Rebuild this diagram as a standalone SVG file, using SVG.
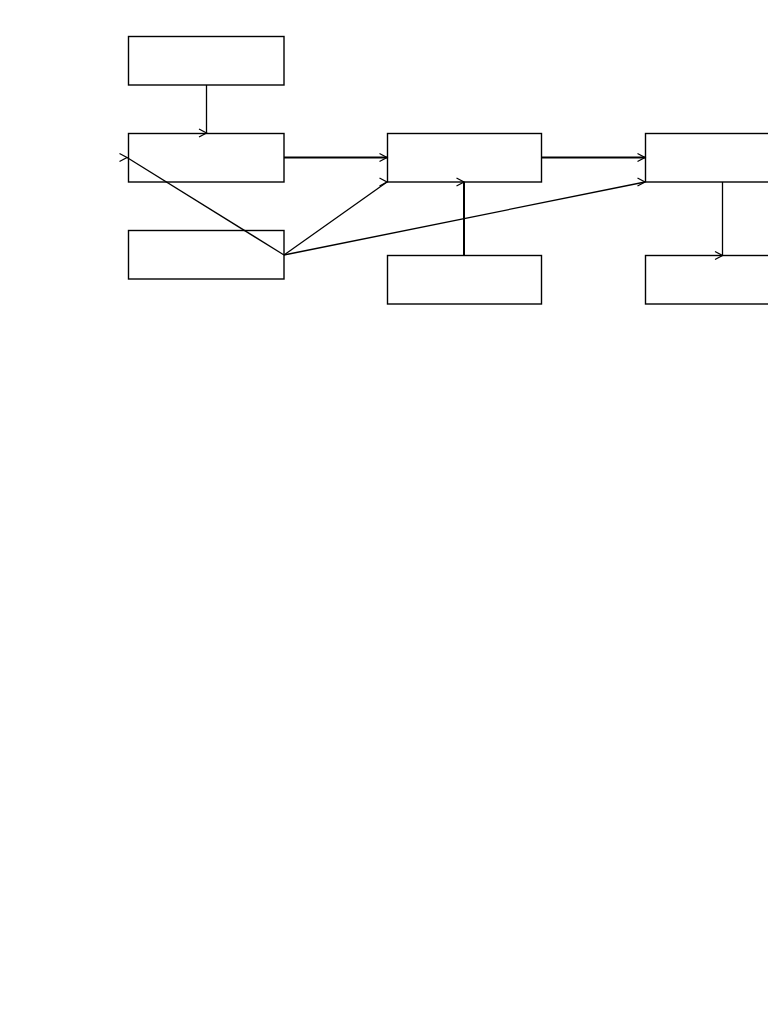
<svg xmlns="http://www.w3.org/2000/svg" width="768" height="1024" viewBox="0 0 768 1024">
<style>
.box{fill:#fff;stroke:#000;stroke-width:1.4}
.ln{fill:none;stroke:#000;stroke-width:1.3}
.thick{stroke-width:2}
</style>
<defs>
<marker id="chev" markerUnits="userSpaceOnUse" markerWidth="14" markerHeight="14" refX="8" refY="5" orient="0" overflow="visible">
<path d="M0.5,1 L8,5 L0.5,9" fill="none" stroke="#000" stroke-width="1.3"/>
</marker>
</defs>
<rect width="768" height="1024" fill="#fff"/>
<g id="nodeA"><rect class="box" x="128.5" y="36.5" width="155.5" height="48.5"/></g>
<g id="nodeB"><rect class="box" x="128.5" y="133.5" width="155.5" height="48.5"/></g>
<g id="nodeC"><rect class="box" x="128.5" y="230.5" width="155.5" height="48.5"/></g>
<g id="nodeD"><rect class="box" x="387.5" y="133.5" width="154" height="48.5"/></g>
<g id="nodeE"><rect class="box" x="387.5" y="255.5" width="154" height="48.5"/></g>
<g id="nodeF"><rect class="box" x="645.5" y="133.5" width="160" height="48.5"/></g>
<g id="nodeG"><rect class="box" x="645.5" y="255.5" width="160" height="48.5"/></g>
<g id="connectors">
<path class="ln" d="M206.5,85 L206.5,133" marker-end="url(#chev)"/>
<path class="ln thick" d="M284,157.5 L387,157.5" marker-end="url(#chev)"/>
<path class="ln thick" d="M541.5,157.5 L645,157.5" marker-end="url(#chev)"/>
<path class="ln" d="M284,255 L127,157.5" marker-end="url(#chev)"/>
<path class="ln" d="M284,255 L387,182" marker-end="url(#chev)"/>
<path class="ln" d="M284,255 L645,182" marker-end="url(#chev)"/>
<path class="ln thick" d="M464,255 L464,182" marker-end="url(#chev)"/>
<path class="ln" d="M722.5,182 L722.5,255.5" marker-end="url(#chev)"/>
</g>
</svg>
